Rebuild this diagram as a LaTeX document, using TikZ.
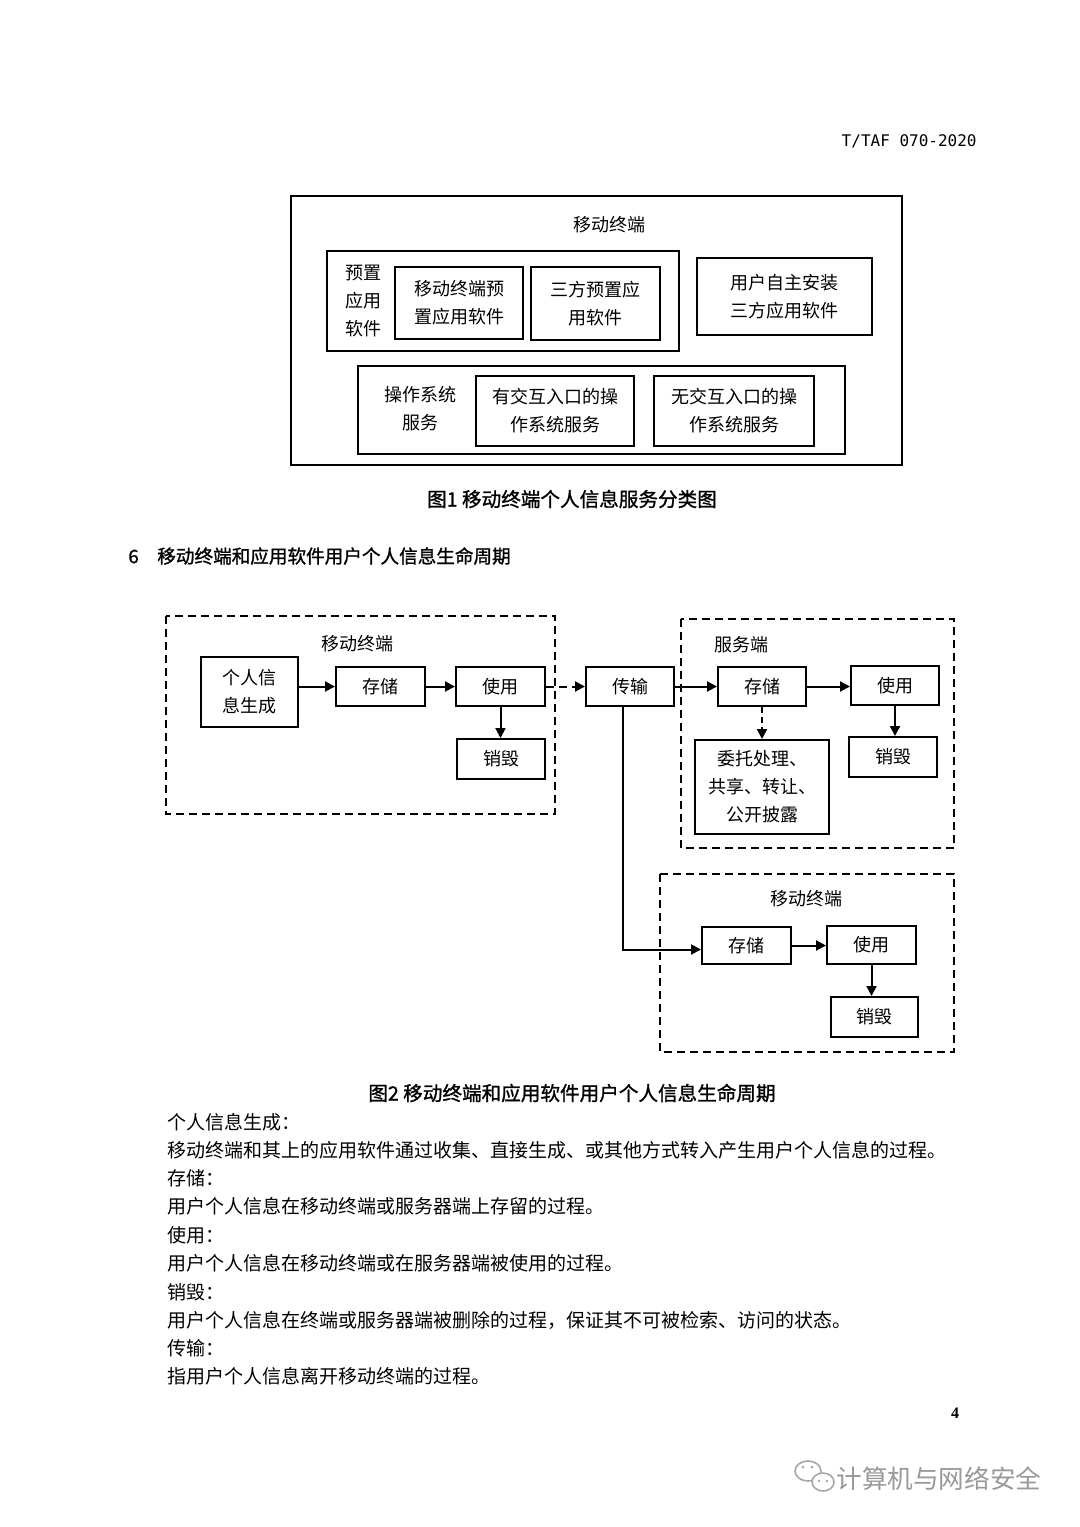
\documentclass[tikz,border=0pt]{standalone}
\usepackage{fontspec}
\setmainfont{Noto Sans CJK SC}
\newfontfamily\headfnt[FakeBold=1.2]{Noto Sans CJK SC}
\newfontfamily\monofnt{DejaVu Sans Mono}
\newfontfamily\serifnum{Liberation Serif}
\usetikzlibrary{arrows.meta}
\newcommand\bx[7][]{\node[box,#1,minimum width={(#5-#3)*0.5pt},minimum height={(#6-#4)*0.5pt}] (#2) at ({(#3+#5)/2},{(#4+#6)/2}) {#7};}
\begin{document}
\begin{tikzpicture}[x=0.5pt,y=-0.5pt,
  box/.style={draw,line width=1pt,inner sep=0pt,align=center,font=\fontsize{9}{14}\selectfont},
  dbox/.style={draw,line width=0.9pt,dash pattern=on 4pt off 2.5pt},
  lbl/.style={inner sep=0pt,align=center,font=\fontsize{9}{14}\selectfont},
  arr/.style={-{Triangle[length=5pt,width=5pt]},line width=1pt},
  body/.style={anchor=west,inner sep=0pt,font=\fontsize{9.5}{12}\selectfont},
  head/.style={inner sep=0pt,font=\headfnt\fontsize{9.8}{12}\selectfont}]
\useasboundingbox (0,0) rectangle (1080,1527);
\fill[white] (0,0) rectangle (1080,1527);

% header
\node[anchor=east,inner sep=0pt,font=\monofnt\fontsize{8}{10}\selectfont] (hdr) at (977,141) {T/TAF 070-2020};

% ---------- Figure 1 ----------
\bx{f1outer}{291}{196}{902}{465}{}
\node[lbl] (f1title) at (609,225) {移动终端};
\bx{pre}{327}{251}{679}{351}{}
\node[lbl] (prelbl) at (363,301) {预置\\应用\\软件};
\bx{pre1}{395}{267}{523}{339}{移动终端预\\置应用软件}
\bx{pre2}{531}{267}{660}{340}{三方预置应\\用软件}
\bx{user}{697}{258}{872}{335}{用户自主安装\\三方应用软件}
\bx{os}{358}{366}{845}{454}{}
\node[lbl] (oslbl) at (420,409) {操作系统\\服务};
\bx{os1}{476}{376}{634}{446}{有交互入口的操\\作系统服务}
\bx{os2}{654}{376}{814}{446}{无交互入口的操\\作系统服务}
\node[head] (cap1) at (572,499) {图1\ 移动终端个人信息服务分类图};

% section heading
\node[head,anchor=west,font=\headfnt\fontsize{9.3}{12}\selectfont] (sec) at (128,556) {6\hspace{1em}移动终端和应用软件用户个人信息生命周期};

% ---------- Figure 2 ----------
\draw[dbox] (166,616) rectangle (555,814);
\node[lbl] (t1) at (357,644) {移动终端};
\bx[line width=1.3pt]{gen}{201}{657}{298}{727}{个人信\\息生成}
\bx{cc}{336}{667}{425}{706}{存储}
\bx{sy}{456}{667}{545}{706}{使用}
\bx{xh}{457}{739}{545}{779}{销毁}
\draw[arr] (gen.east |- cc.west) -- (cc.west);
\draw[arr] (cc.east) -- (sy.west);
\draw[arr] (sy.south) -- (sy.south |- xh.north);

\bx{cs}{586}{667}{674}{706}{传输}
\draw[arr,dash pattern=on 4pt off 2.5pt] (sy.east) -- (cs.west);

\draw[dbox] (681,619) rectangle (954,848);
\node[lbl] (t2) at (741,645) {服务端};
\bx{s1}{718}{667}{806}{706}{存储}
\bx{s2}{851}{666}{939}{705}{使用}
\bx{wt}{695}{740}{829}{834}{委托处理、\\共享、转让、\\公开披露}
\bx{s3}{849}{737}{937}{777}{销毁}
\draw[arr] (cs.east) -- (s1.west);
\draw[arr] (s1.east) -- (s1.east -| s2.west);
\draw[arr,dash pattern=on 3pt off 2pt] (s1.south) -- (s1.south |- wt.north);
\draw[arr] (s2.south) -- (s2.south |- s3.north);

\draw[dbox] (660,874) rectangle (954,1052);
\node[lbl] (t3) at (806,899) {移动终端};
\bx{m1}{702}{927}{791}{964}{存储}
\bx{m2}{827}{926}{916}{964}{使用}
\bx{m3}{831}{997}{918}{1037}{销毁}
\draw[arr] ([xshift=-3.5pt]cs.south) |- ([yshift=-2pt]m1.west);
\draw[arr] (m1.east) -- (m1.east -| m2.west);
\draw[arr] (m2.south) -- (m2.south |- m3.north);

\node[head] (cap2) at (572,1093) {图2\ 移动终端和应用软件用户个人信息生命周期};

% ---------- body text ----------
\node[body] (b1) at (167,1122) {个人信息生成：};
\node[body] (b2) at (167,1150) {移动终端和其上的应用软件通过收集、直接生成、或其他方式转入产生用户个人信息的过程。};
\node[body] (b3) at (167,1178) {存储：};
\node[body] (b4) at (167,1206) {用户个人信息在移动终端或服务器端上存留的过程。};
\node[body] (b5) at (167,1235) {使用：};
\node[body] (b6) at (167,1263) {用户个人信息在移动终端或在服务器端被使用的过程。};
\node[body] (b7) at (167,1292) {销毁：};
\node[body] (b8) at (167,1320) {用户个人信息在终端或服务器端被删除的过程，保证其不可被检索、访问的状态。};
\node[body] (b9) at (167,1348) {传输：};
\node[body] (b10) at (167,1376) {指用户个人信息离开移动终端的过程。};

% page number
\node[inner sep=0pt,font=\serifnum\bfseries\fontsize{8}{10}\selectfont] (pg) at (955,1413) {4};

% watermark
\begin{scope}[draw=black!35,line width=0.8pt]
\draw (808,1471) ellipse (13 and 10);
\draw[fill=white] (823,1482) ellipse (11 and 9);
\fill[black!35] (803,1467) circle (1.5) (812,1467) circle (1.5) (819,1481) circle (1.3) (827,1481) circle (1.3);
\end{scope}
\node[anchor=west,inner sep=0pt,text=black!40,font=\fontsize{12.8}{15}\selectfont] (wm) at (836,1479) {计算机与网络安全};
\end{tikzpicture}
\end{document}
